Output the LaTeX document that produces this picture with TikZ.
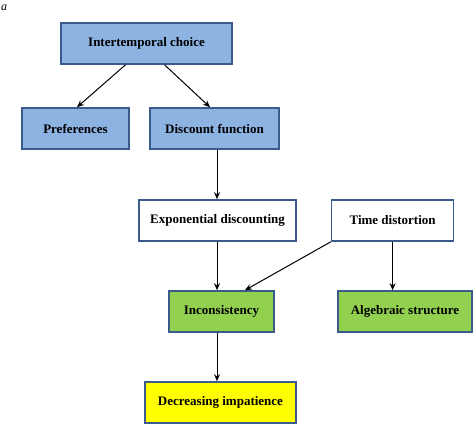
\documentclass[tikz,border=0pt]{standalone}
\usepackage{fontspec}
\setmainfont{Liberation Serif}
\usepackage{xcolor}
\usepackage{tikz}
\usetikzlibrary{arrows.meta,positioning}

\definecolor{boxline}{HTML}{3B5B8C}
\definecolor{boxblue}{HTML}{8DB3E2}
\definecolor{boxgreen}{HTML}{92D050}
\definecolor{boxyellow}{HTML}{FFFF00}

\tikzset{
  box/.style={draw=boxline, line width=1.6pt, minimum height=41pt, inner sep=2pt,
    font=\fontsize{13}{15}\selectfont\bfseries},
  bluebox/.style={box, fill=boxblue},
  greenbox/.style={box, fill=boxgreen},
  yellowbox/.style={box, fill=boxyellow},
  whitebox/.style={box, fill=white},
  link/.style={-{Stealth[length=7pt,width=6pt]}, line width=1pt}
}

\begin{document}
\begin{tikzpicture}[x=1pt, y=-1pt]
            \useasboundingbox (0,0) rectangle (474,424);
            \node [anchor=base west, inner sep=0pt, font=\fontsize{12}{14}\selectfont\itshape] (tag) at (1,10) {a};
            \node [bluebox, minimum width=171pt] (choice) at (146.5,43.5) {Intertemporal choice};
            \node [bluebox, minimum width=107pt] (pref) at (75.5,128.5) {Preferences};
            \node [bluebox, minimum width=129pt] (discount) at (214.5,128.5) {Discount function};
            \node [whitebox, minimum width=157pt] (expo) at (217.5,220.5) {Exponential discounting};
            \node [whitebox, minimum width=122pt, right = 34pt of expo] (distort) {Time distortion};
            \node [greenbox, minimum width=105pt] (incons) at (221.5,311.5) {Inconsistency};
            \node [greenbox, minimum width=134pt] (algebra) at (405,311.5) {Algebraic structure};
            \node [yellowbox, minimum width=151pt] (impatience) at (220.5,402.5) {Decreasing impatience};
            % arrows
            \coordinate (c1) at ([xshift=-21pt]choice.south);
            \coordinate (c2) at ([xshift=18pt]choice.south);
            \draw [link] (c1) -- ([xshift=1.5pt]pref.north);
            \draw [link] (c2) -- ([xshift=-4.5pt]discount.north);
            \draw [link] ([xshift=2.5pt]discount.south) -- ([xshift=2.5pt]discount.south |- expo.north);
            \draw [link] ([xshift=-0.5pt]expo.south) -- ([xshift=-0.5pt]expo.south |- incons.north);
            \draw [link] (distort.south west) -- ([xshift=23.5pt]incons.north);
            \draw [link] (distort.south) -- (distort.south |- algebra.north);
            \draw [link] ([xshift=-4.5pt]incons.south) -- ([xshift=-4.5pt]incons.south |- impatience.north);
\end{tikzpicture}
\end{document}
